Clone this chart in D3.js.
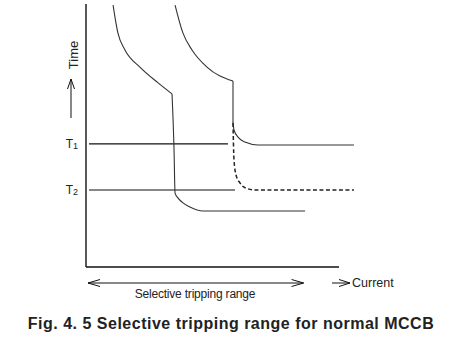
<!DOCTYPE html>
<html><head><meta charset="utf-8">
<script src="https://cdn.jsdelivr.net/npm/d3@7"></script>
<style>body{margin:0;background:#fff}svg{display:block}text{font-family:"Liberation Sans",Arial,sans-serif;fill:#222}</style>
</head><body><svg id="c" width="464" height="338"></svg>
<script>
// Data (abstract units: current 0-100 along x axis, time 0-100 along y axis)
const curve1Upper = [[10.7,99.6],[12.6,89.0],[15.4,82.5],[21.3,76.0],[28.5,70.0],[34.0,65.8]];
const curve1Lower = [[34.0,65.8],[34.8,44.5],[35.2,28.1],[36.4,26.2],[38.2,24.5],[41.1,22.8],[46.2,21.3],[86.6,21.3]];
const curve2Upper = [[35.2,99.6],[38.3,89.0],[41.9,82.5],[47.8,76.0],[58.1,70.7]];
const curve2Knee = [[58.1,70.7],[58.1,54.8]];
const curve2Solid = [[58.1,54.8],[58.5,52.1],[60.1,49.4],[62.8,47.5],[68.0,46.4],[105.9,46.4]];
const curve2Dashed = [[58.1,54.8],[58.5,40.7],[59.3,35.0],[60.9,31.9],[63.2,30.0],[66.8,29.3],[105.9,29.3]];
const timeLevels = [{label:"T",sub:"1",y:46.8,x0:1.2,x1:56.1},{label:"T",sub:"2",y:29.3,x0:1.2,x1:58.9}];
const rangeSpan = [0.8,86.0];
const texts = {yLabel:"Time", xLabel:"Current", range:"Selective tripping range", title:"Fig. 4. 5 Selective tripping range for normal MCCB"};

const svg = d3.select("#c");
const x = d3.scaleLinear().domain([0,100]).range([86,339]);
const y = d3.scaleLinear().domain([0,100]).range([267,4]);

// axes
svg.append("line").attr("x1",x(0)).attr("x2",x(0)).attr("y1",y(100)).attr("y2",y(0)).attr("stroke","#111").attr("stroke-width",1.4);
svg.append("line").attr("x1",x(0)).attr("x2",x(100)).attr("y1",y(0)).attr("y2",y(0)).attr("stroke","#111").attr("stroke-width",1.4);

const line = d3.line().x(d=>x(d[0])).y(d=>y(d[1])).curve(d3.curveMonotoneX);

// T levels
timeLevels.forEach(t=>{
  svg.append("line").attr("x1",x(t.x0)).attr("x2",x(t.x1)).attr("y1",y(t.y)).attr("y2",y(t.y)).attr("stroke","#111").attr("stroke-width",1.1);
  const tx = svg.append("text").attr("x",78).attr("y",y(t.y)+4).attr("text-anchor","end").attr("font-size",12);
  tx.append("tspan").text(t.label);
  tx.append("tspan").attr("font-size",9).attr("dy",1).text(t.sub);
});

[curve1Upper, curve1Lower, curve2Upper, curve2Knee, curve2Solid].forEach(c=>{
  svg.append("path").datum(c).attr("d",line).attr("fill","none").attr("stroke","#333").attr("stroke-width",1.1);
});
svg.append("path").datum(curve2Dashed).attr("d",line).attr("fill","none").attr("stroke","#222").attr("stroke-width",1.5).attr("stroke-dasharray","4,2.5");

// Time label + arrow
svg.append("text").attr("transform","translate(78,55) rotate(-90)").attr("text-anchor","middle").attr("font-size",13).text(texts.yLabel);
svg.append("line").attr("x1",71).attr("x2",71).attr("y1",118).attr("y2",79).attr("stroke","#111").attr("stroke-width",1);
svg.append("path").attr("d","M67.5,89 L71,79 L74.5,89").attr("fill","none").attr("stroke","#111").attr("stroke-width",1);

// selective range double arrow
const ay = 283;
svg.append("line").attr("x1",x(rangeSpan[0])).attr("x2",x(rangeSpan[1])).attr("y1",ay).attr("y2",ay).attr("stroke","#111").attr("stroke-width",1);
svg.append("path").attr("d",`M${x(rangeSpan[0])+12},${ay-3.5} L${x(rangeSpan[0])},${ay} L${x(rangeSpan[0])+12},${ay+3.5}`).attr("fill","none").attr("stroke","#111").attr("stroke-width",1);
svg.append("path").attr("d",`M${x(rangeSpan[1])-12},${ay-3.5} L${x(rangeSpan[1])},${ay} L${x(rangeSpan[1])-12},${ay+3.5}`).attr("fill","none").attr("stroke","#111").attr("stroke-width",1);
svg.append("text").attr("x",195).attr("y",298).attr("text-anchor","middle").attr("font-size",12).attr("letter-spacing",-0.2).text(texts.range);

// Current arrow
svg.append("line").attr("x1",332).attr("x2",350).attr("y1",ay).attr("y2",ay).attr("stroke","#111").attr("stroke-width",1);
svg.append("path").attr("d",`M339,${ay-3.5} L350,${ay} L339,${ay+3.5}`).attr("fill","none").attr("stroke","#111").attr("stroke-width",1);
svg.append("text").attr("x",352).attr("y",ay+4).attr("font-size",12.5).text(texts.xLabel);

// title
svg.append("text").attr("x",231).attr("y",329).attr("text-anchor","middle").attr("font-size",16).attr("letter-spacing",0.5).attr("font-weight","bold").attr("fill","#111").text(texts.title);
</script></body></html>
